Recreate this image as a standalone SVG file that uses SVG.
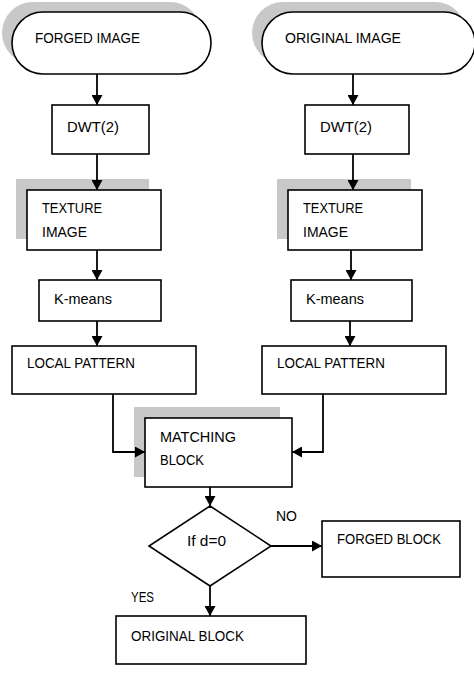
<svg xmlns="http://www.w3.org/2000/svg" width="474" height="684" viewBox="0 0 474 684">
<defs>
<style>
.box{fill:#fff;stroke:#000;stroke-width:1.6}
.sh{fill:#c8c8c8;stroke:none}
.t{font-family:"Liberation Sans",Arial,sans-serif;font-size:15px;fill:#000}
.c{fill:none;stroke:#000;stroke-width:1.8}
</style>
<marker id="ah" markerUnits="userSpaceOnUse" markerWidth="11" markerHeight="11" refX="10" refY="5.5" orient="auto">
<path d="M0,0 L10,5.5 L0,11 z" fill="#000"/>
</marker>
</defs>
<rect width="474" height="684" fill="#fff"/>
<g id="forged-image">
<rect class="sh" x="2" y="2" width="199" height="62" rx="31"/>
<rect class="box" x="12" y="12" width="199" height="62" rx="31"/>
<text class="t" x="35" y="43" textLength="105" lengthAdjust="spacingAndGlyphs">FORGED IMAGE</text>
</g>
<g id="original-image">
<rect class="sh" x="252" y="2" width="214" height="62" rx="31"/>
<rect class="box" x="262" y="12" width="213" height="62" rx="31"/>
<text class="t" x="285" y="43" textLength="116" lengthAdjust="spacingAndGlyphs">ORIGINAL IMAGE</text>
</g>
<g id="dwt-left">
<rect class="box" x="52" y="105" width="97" height="49"/>
<text class="t" x="67" y="132" textLength="52" lengthAdjust="spacingAndGlyphs">DWT(2)</text>
</g>
<g id="dwt-right">
<rect class="box" x="305" y="105" width="104" height="49"/>
<text class="t" x="320" y="132" textLength="52" lengthAdjust="spacingAndGlyphs">DWT(2)</text>
</g>
<g id="texture-left">
<rect class="sh" x="16" y="179" width="133" height="60"/>
<rect class="box" x="27" y="190" width="134" height="60"/>
<text class="t" x="42" y="213" textLength="60" lengthAdjust="spacingAndGlyphs">TEXTURE</text>
<text class="t" x="42" y="237" textLength="45" lengthAdjust="spacingAndGlyphs">IMAGE</text>
</g>
<g id="texture-right">
<rect class="sh" x="277" y="179" width="134" height="60"/>
<rect class="box" x="288" y="190" width="134" height="60"/>
<text class="t" x="303" y="213" textLength="60" lengthAdjust="spacingAndGlyphs">TEXTURE</text>
<text class="t" x="303" y="237" textLength="45" lengthAdjust="spacingAndGlyphs">IMAGE</text>
</g>
<g id="kmeans-left">
<rect class="box" x="39" y="280" width="122" height="41"/>
<text class="t" x="54" y="304" textLength="58" lengthAdjust="spacingAndGlyphs">K-means</text>
</g>
<g id="kmeans-right">
<rect class="box" x="291" y="280" width="121" height="41"/>
<text class="t" x="306" y="304" textLength="58" lengthAdjust="spacingAndGlyphs">K-means</text>
</g>
<g id="local-left">
<rect class="box" x="12" y="346" width="184" height="48"/>
<text class="t" x="27" y="368" textLength="108" lengthAdjust="spacingAndGlyphs">LOCAL PATTERN</text>
</g>
<g id="local-right">
<rect class="box" x="262" y="346" width="184" height="48"/>
<text class="t" x="277" y="368" textLength="108" lengthAdjust="spacingAndGlyphs">LOCAL PATTERN</text>
</g>
<g id="matching">
<rect class="sh" x="134" y="407" width="146" height="70"/>
<rect class="box" x="145" y="418" width="147" height="69"/>
<text class="t" x="160" y="442" textLength="76" lengthAdjust="spacingAndGlyphs">MATCHING</text>
<text class="t" x="160" y="465" textLength="44" lengthAdjust="spacingAndGlyphs">BLOCK</text>
</g>
<g id="decision">
<polygon class="box" points="210,506 271,546 210,586 149,546"/>
<text class="t" x="187" y="546" textLength="39" lengthAdjust="spacingAndGlyphs">If d=0</text>
</g>
<g id="forged-block">
<rect class="box" x="322" y="521" width="138" height="56"/>
<text class="t" x="337" y="544" textLength="104" lengthAdjust="spacingAndGlyphs">FORGED BLOCK</text>
</g>
<g id="original-block">
<rect class="box" x="116" y="616" width="190" height="48"/>
<text class="t" x="131" y="641" textLength="113" lengthAdjust="spacingAndGlyphs">ORIGINAL BLOCK</text>
</g>
<g id="connectors">
<path class="c" marker-end="url(#ah)" d="M97,74 V105"/>
<path class="c" marker-end="url(#ah)" d="M97,154 V190"/>
<path class="c" marker-end="url(#ah)" d="M97,250 V280"/>
<path class="c" marker-end="url(#ah)" d="M97,321 V346"/>
<path class="c" marker-end="url(#ah)" d="M353,74 V105"/>
<path class="c" marker-end="url(#ah)" d="M353,154 V190"/>
<path class="c" marker-end="url(#ah)" d="M351,250 V280"/>
<path class="c" marker-end="url(#ah)" d="M350,321 V346"/>
<path class="c" marker-end="url(#ah)" d="M113,394 V452 H145"/>
<path class="c" marker-end="url(#ah)" d="M323,394 V452 H292"/>
<path class="c" marker-end="url(#ah)" d="M210,487 V506"/>
<path class="c" marker-end="url(#ah)" d="M271,546 H322"/>
<path class="c" marker-end="url(#ah)" d="M210,586 V616"/>
<text class="t" x="276" y="521" textLength="21" lengthAdjust="spacingAndGlyphs">NO</text>
<text class="t" x="131" y="602" textLength="23" lengthAdjust="spacingAndGlyphs">YES</text>
</g>
</svg>
